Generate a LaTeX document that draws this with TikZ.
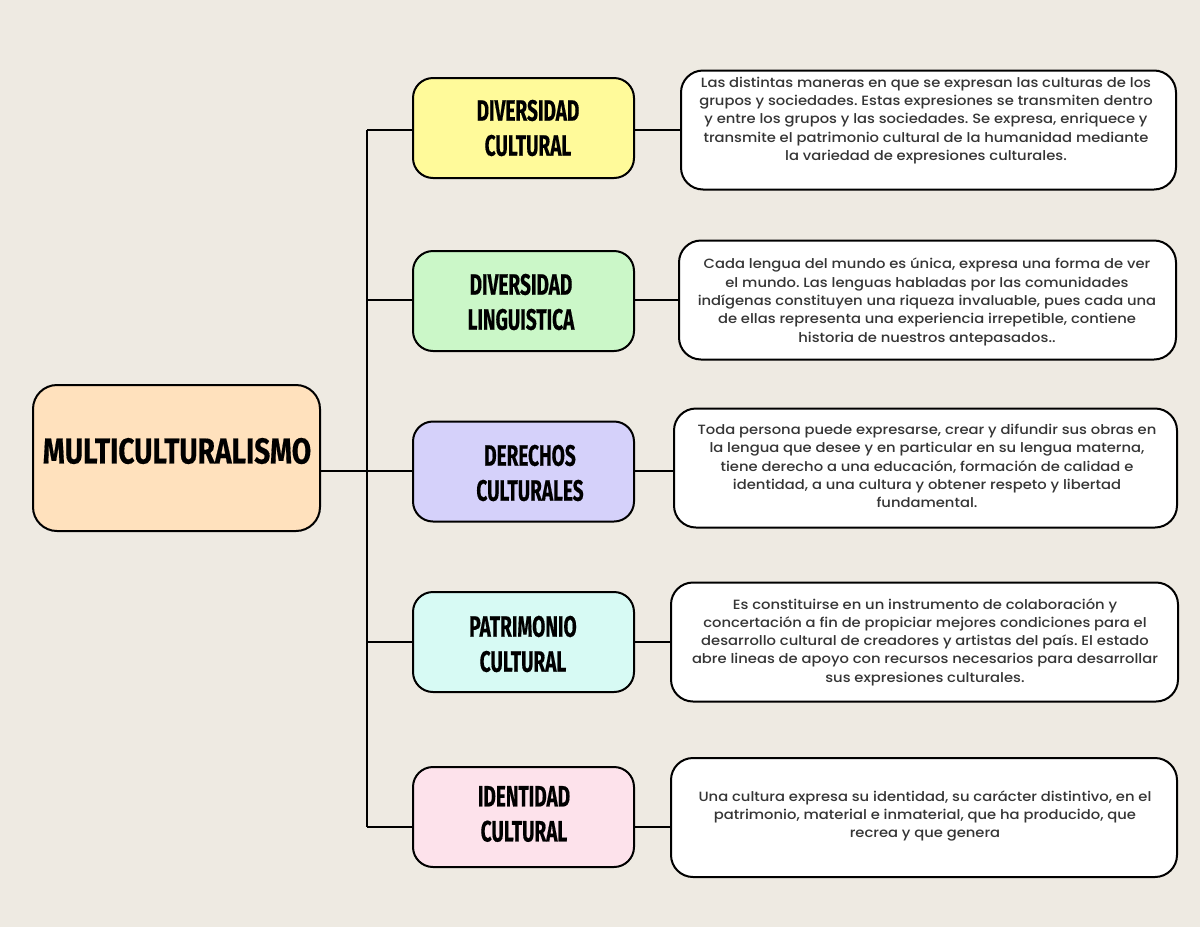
\documentclass[tikz,border=0pt]{standalone}
\usepackage{fontspec}
\setmainfont{Poppins}
\newfontfamily\headfont{Fira Sans}[FakeStretch=0.645,BoldFeatures={FakeBold=0.4}]
\newfontfamily\mainheadfont{Fira Sans}[FakeStretch=0.78,BoldFeatures={FakeBold=0.4}]
\newfontfamily\descfont{Poppins}[UprightFont=* Medium,FakeStretch=1.1]
\definecolor{bg}{HTML}{EEEAE2}
\definecolor{corange}{HTML}{FFE1BD}
\definecolor{cyellow}{HTML}{FFFA9A}
\definecolor{cgreen}{HTML}{CBF7C8}
\definecolor{cpurple}{HTML}{D5D1FA}
\definecolor{ccyan}{HTML}{D7FAF4}
\definecolor{cpink}{HTML}{FDE2EB}
\definecolor{desctext}{HTML}{353535}
\frenchspacing
\begin{document}
\begin{tikzpicture}[x=1pt,y=-1pt,
  boxbase/.style={draw=black, line width=2pt, inner sep=0pt},
  mainbox/.style={boxbase, rounded corners=24pt, fill=corange, minimum width=287pt, minimum height=146pt},
  catbox/.style={boxbase, rounded corners=20pt, minimum width=221pt, minimum height=100pt},
  descbox/.style={boxbase, rounded corners=22pt, fill=white, minimum height=119pt},
  cattext/.style={font=\headfont\bfseries\fontsize{29.5}{35}\selectfont, align=center, inner sep=0pt},
  maintext/.style={font=\mainheadfont\bfseries\fontsize{36}{40}\selectfont, inner sep=0pt},
  desctxt/.style={font=\descfont\fontsize{13.4}{18.3}\selectfont\frenchspacing, text=desctext, align=center, inner sep=0pt},
  link/.style={draw=black, line width=2pt}
]
\useasboundingbox (0,0) rectangle (1200,927);
\fill[bg] (0,0) rectangle (1200,927);

% main node
\node[mainbox] (main) at (176.5,458) {};
\node[maintext] (maint) at (177,451) {MULTICULTURALISMO};

% category nodes
\node[catbox, fill=cyellow] (cat1) at (523.5,128) {};
\node[catbox, fill=cgreen]  (cat2) at (523.5,301) {};
\node[catbox, fill=cpurple] (cat3) at (523.5,471.5) {};
\node[catbox, fill=ccyan]   (cat4) at (523.5,642) {};
\node[catbox, fill=cpink]   (cat5) at (523.5,817) {};

\node[cattext] (cat1t) at (528,128) {DIVERSIDAD\\CULTURAL};
\node[cattext] (cat2t) at (521,302) {DIVERSIDAD\\LINGUISTICA};
\node[cattext] (cat3t) at (530,473) {DERECHOS\\CULTURALES};
\node[cattext] (cat4t) at (523,644) {PATRIMONIO\\CULTURAL};
\node[cattext] (cat5t) at (524,814) {IDENTIDAD\\CULTURAL};

% description nodes
\node[descbox, minimum width=495pt] (d1) at (928.5,130) {};
\node[descbox, minimum width=497pt] (d2) at (927.5,300) {};
\node[descbox, minimum width=503pt] (d3) at (925.5,468) {};
\node[descbox, minimum width=507pt] (d4) at (924.5,642) {};
\node[descbox, minimum width=506pt] (d5) at (924,817.5) {};

\node[desctxt] (d1t) at (926,120.5) {Las distintas maneras en que se expresan las culturas de los\\grupos y sociedades. Estas expresiones se transmiten dentro\\y entre los grupos y las sociedades. Se expresa, enriquece y\\transmite el patrimonio cultural de la humanidad mediante\\la variedad de expresiones culturales.};
\node[desctxt] (d2t) at (927,302) {Cada lengua del mundo es única, expresa una forma de ver\\el mundo. Las lenguas habladas por las comunidades\\indígenas constituyen una riqueza invaluable, pues cada una\\de ellas representa una experiencia irrepetible, contiene\\historia de nuestros antepasados..};
\node[desctxt] (d3t) at (927,466) {Toda persona puede expresarse, crear y difundir sus obras en\\la lengua que desee y en particular en su lengua materna,\\tiene derecho a una educación, formación de calidad e\\identidad, a una cultura y obtener respeto y libertad\\fundamental.};
\node[desctxt] (d4t) at (925,642) {Es constituirse en un instrumento de colaboración y\\concertación a fin de propiciar mejores condiciones para el\\desarrollo cultural de creadores y artistas del país. El estado\\abre lineas de apoyo con recursos necesarios para desarrollar\\sus expresiones culturales.};
\node[desctxt] (d5t) at (925,816) {Una cultura expresa su identidad, su carácter distintivo, en el\\patrimonio, material e inmaterial, que ha producido, que\\recrea y que genera};

% trunk and branch coordinates
\coordinate (b1) at (367,130);
\coordinate (b2) at (367,300);
\coordinate (b3) at (367,471);
\coordinate (b4) at (367,642);
\coordinate (b5) at (367,827);

\draw[link] (b1) -- (b5);
\draw[link] (main.east |- b3) -- (b3);
\foreach \i in {1,...,5}{
  \draw[link] (b\i) -- (cat\i.west |- b\i);
  \draw[link] (cat\i.east |- b\i) -- (d\i.west |- b\i);
}
\end{tikzpicture}
\end{document}
